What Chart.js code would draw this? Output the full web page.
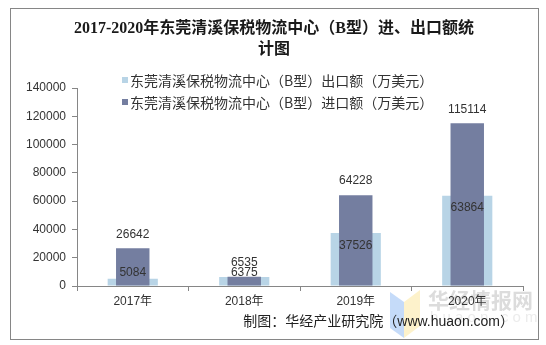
<!DOCTYPE html>
<html>
<head>
<meta charset="utf-8">
<script src="https://cdn.jsdelivr.net/npm/chart.js@4/dist/chart.umd.min.js"></script>
<style>
html,body{margin:0;padding:0;background:#fff;}
#wrap{position:relative;width:546px;height:345px;}
</style>
</head>
<body>
<div id="wrap"><canvas id="c" width="546" height="345"></canvas></div>
<script>
const titleLines = ['2017-2020年东莞清溪保税物流中心（B型）进、出口额统', '计图'];
const categories = ['2017年', '2018年', '2019年', '2020年'];
const seriesNames = ['东莞清溪保税物流中心（B型）出口额（万美元）', '东莞清溪保税物流中心（B型）进口额（万美元）'];
const exportValues = [5084, 6375, 37526, 63864];
const importValues = [26642, 6535, 64228, 115114];
const yAxisMin = 0, yAxisMax = 140000, yAxisStep = 20000;
const sourceText = '制图：华经产业研究院（www.huaon.com）';

const LIGHT = '#B8D4E6';
const DARK = '#747EA0';
const AXIS = '#868686';
const TEXT = '#333333';
const CJK = "'Liberation Sans', 'Noto Sans CJK SC', sans-serif";

const decorPlugin = {
  id: 'decor',
  beforeDraw(chart) {
    const ctx = chart.ctx;
    ctx.save();
    ctx.fillStyle = '#fff';
    ctx.fillRect(0, 0, chart.width, chart.height);
    // watermark
    ctx.globalAlpha = 0.6;
    ctx.fillStyle = '#9fc3f5';
    ctx.beginPath();
    ctx.moveTo(390, 292); ctx.lineTo(404, 302); ctx.lineTo(404, 338); ctx.lineTo(390, 328); ctx.closePath(); ctx.fill();
    ctx.fillStyle = '#fbe9a8';
    ctx.beginPath();
    ctx.moveTo(404, 302); ctx.lineTo(420, 290); ctx.lineTo(420, 326); ctx.lineTo(404, 338); ctx.closePath(); ctx.fill();
    ctx.globalAlpha = 1;
    ctx.fillStyle = '#dcdcdc';
    ctx.font = "bold 21px 'Noto Sans CJK SC', sans-serif";
    ctx.textBaseline = 'middle';
    ctx.textAlign = 'left';
    ctx.fillText('华经情报网', 428, 300);
    ctx.fillStyle = '#ececec';
    ctx.font = "15px 'Liberation Sans', sans-serif";
    ctx.fillText('h u a o n . c o m', 430, 318);
    ctx.restore();
  },
  afterDatasetsDraw(chart) {
    const ctx = chart.ctx;
    ctx.save();
    ctx.font = "12px 'Liberation Sans', sans-serif";
    ctx.fillStyle = TEXT;
    ctx.textAlign = 'center';
    ctx.textBaseline = 'middle';
    chart.data.datasets.forEach((ds, di) => {
      const meta = chart.getDatasetMeta(di);
      meta.data.forEach((el, i) => {
        const v = ds.data[i];
        let y;
        if (ds.labelPos === 'outside') {
          y = el.y - 14;
        } else {
          y = Math.min(el.y + 12.5, el.base - 13);
        }
        ctx.fillText(String(v), el.x, y);
      });
    });
    ctx.restore();
  },
  afterDraw(chart) {
    const ctx = chart.ctx;
    ctx.save();
    // border
    ctx.strokeStyle = AXIS;
    ctx.lineWidth = 1;
    ctx.strokeRect(10.5, 8.5, 528, 331);
    // title
    ctx.fillStyle = '#1a1a1a';
    ctx.textAlign = 'center';
    ctx.textBaseline = 'middle';
    ctx.font = "bold 16px 'Liberation Serif', 'Noto Sans CJK SC', serif";
    ctx.fillText(titleLines[0], 274, 29);
    ctx.fillText(titleLines[1], 274, 50);
    // legend
    ctx.font = "14px 'Noto Sans CJK SC', sans-serif";
    ctx.textAlign = 'left';
    const ys = [80, 102];
    chart.data.datasets.forEach((ds, di) => {
      ctx.fillStyle = ds.backgroundColor;
      ctx.fillRect(122, ys[di] - 3, 6, 6);
      ctx.fillStyle = TEXT;
      ctx.fillText(ds.label, 130, ys[di] + 1);
    });
    // source
    ctx.font = "14px 'Liberation Sans', 'Noto Sans CJK SC', sans-serif";
    ctx.textAlign = 'right';
    ctx.fillStyle = '#222';
    ctx.fillText(sourceText, 514, 322);
    ctx.restore();
  }
};

new Chart(document.getElementById('c'), {
  type: 'bar',
  data: {
    labels: categories,
    datasets: [
      { label: seriesNames[0], data: exportValues, backgroundColor: LIGHT, barPercentage: 0.45, categoryPercentage: 1, order: 1, labelPos: 'inside' },
      { label: seriesNames[1], data: importValues, backgroundColor: DARK, barPercentage: 0.3, categoryPercentage: 1, order: 0, labelPos: 'outside' }
    ]
  },
  options: {
    responsive: false,
    animation: false,
    devicePixelRatio: 1,
    layout: { padding: { left: 10, right: 23, top: 88, bottom: 0 } },
    datasets: { bar: { grouped: false } },
    plugins: { legend: { display: false }, title: { display: false }, tooltip: { enabled: false } },
    scales: {
      x: {
        grid: { display: true, drawOnChartArea: false, offset: true, color: AXIS, tickLength: 5 },
        border: { color: AXIS },
        ticks: { color: TEXT, font: { size: 12, family: CJK }, padding: 3, maxRotation: 0 },
        afterFit(s) { s.height = 59; }
      },
      y: {
        min: yAxisMin, max: yAxisMax,
        grid: { display: true, drawOnChartArea: false, color: AXIS, tickLength: 5 },
        border: { color: AXIS },
        ticks: { stepSize: yAxisStep, color: TEXT, font: { size: 12, family: "'Liberation Sans', sans-serif" }, padding: 6, callback: (v) => String(v) },
        afterFit(s) { s.width = 67; }
      }
    }
  },
  plugins: [decorPlugin]
});
</script>
</body>
</html>
